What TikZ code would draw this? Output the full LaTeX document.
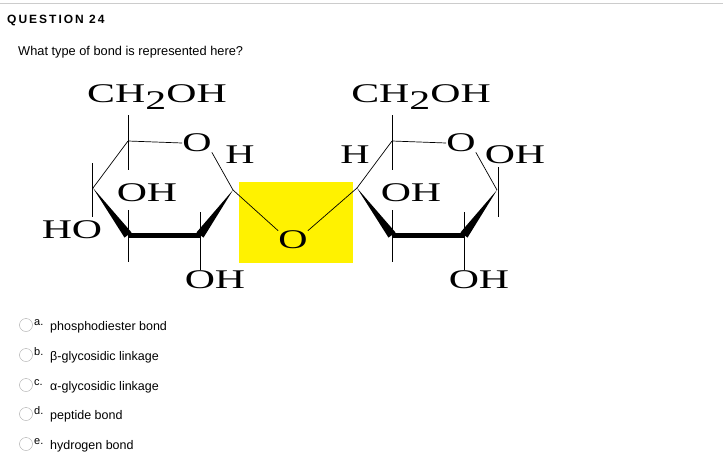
\documentclass[tikz,border=0pt]{standalone}
\usepackage{fontspec}
\usetikzlibrary{calc}
\setmainfont{Liberation Sans}
\newfontfamily\chem{Liberation Serif}
\begin{document}
\begin{tikzpicture}[x=1pt,y=-1pt,
  bond/.style={line width=0.7pt},
  lbl/.style={inner sep=0pt,font=\chem\fontsize{27}{27}\selectfont},
  opt/.style={anchor=west,inner sep=0pt,font=\fontsize{12.5}{14}\selectfont},
  radio/.style={circle,draw=gray!70,fill=white,minimum size=13pt,inner sep=0pt}]
\useasboundingbox (0,0) rectangle (723,472);
\draw[gray!40,line width=1pt] (0,3) -- (723,3);
\node[anchor=west,inner sep=0pt,font=\bfseries\fontsize{12}{14}\selectfont] (q) at (7,20) {Q\,U\,E\,S\,T\,I\,O\,N\, 2\,4};
\node[anchor=west,inner sep=0pt,font=\fontsize{12.8}{14}\selectfont] (t) at (18,52) {What type of bond is represented here?};
\fill[yellow] (239,182) rectangle (353,263);
\foreach \dx/\r in {0/L,264/R}{
  \begin{scope}[xshift=\dx]
  \coordinate (c5\r) at (128,141);
  \coordinate (c4\r) at (93,188);
  \coordinate (c3\r) at (128,235);
  \coordinate (c2\r) at (200,235);
  \coordinate (c1\r) at (233,190);
  \node[lbl] (o\r) at (197,143) {\scalebox{1.5}[1]{O}};
  \draw[bond] (c5\r) -- (o\r.west);
  \draw[bond] (o\r.south east) -- (c1\r);
  \draw[bond] (c5\r) -- (c4\r);
  \fill (c4\r) -- ($(c3\r)+(3.5,-2.6)$) -- ($(c3\r)+(-3.5,2.6)$) -- cycle;
  \draw[line width=5pt] (c3\r) -- (c2\r);
  \fill (c1\r) -- ($(c2\r)+(3.5,2.6)$) -- ($(c2\r)+(-3.5,-2.6)$) -- cycle;
  \draw[bond] (128,115) -- (128,170);
  \draw[bond] (128,210) -- (128,262);
  \draw[bond] (200,212) -- (200,270);
  \node[lbl] (ch\r) at (157,97) {\scalebox{1.55}[1]{CH\raisebox{-0.25em}{2}OH}};
  \node[lbl] (oh\r) at (147,193) {\scalebox{1.55}[1]{OH}};
  \node[lbl] (ohb\r) at (215,280) {\scalebox{1.55}[1]{OH}};
  \end{scope}}
\draw[bond] (92,163) -- (92,217);
\draw[bond] (498,167) -- (498,217);
\node[lbl] (ho) at (72,230) {\scalebox{1.55}[1]{HO}};
\node[lbl] (hL) at (240,155) {\scalebox{1.5}[1]{H}};
\node[lbl] (hR) at (355,155) {\scalebox{1.5}[1]{H}};
\node[lbl] (ohR2) at (515,155) {\scalebox{1.55}[1]{OH}};
\node[lbl] (og) at (293,240) {\scalebox{1.5}[1]{O}};
\draw[bond] (c1L) -- (og.north west);
\draw[bond] (og.north east) -- (c4R);
\foreach \y/\l/\s [count=\i] in {325/a./phosphodiester bond,355/b./β-glycosidic linkage,385/c./α-glycosidic linkage,414/d./peptide bond,444/e./hydrogen bond}{
  \node[radio] (r\i) at (26,\y) {};
  \node[anchor=south west,inner sep=0pt,font=\fontsize{11}{12}\selectfont] (l\i) at (34,\y+1) {\l};
  \node[opt] (o\i) at (50,\y+2) {\s};
}
\end{tikzpicture}
\end{document}
